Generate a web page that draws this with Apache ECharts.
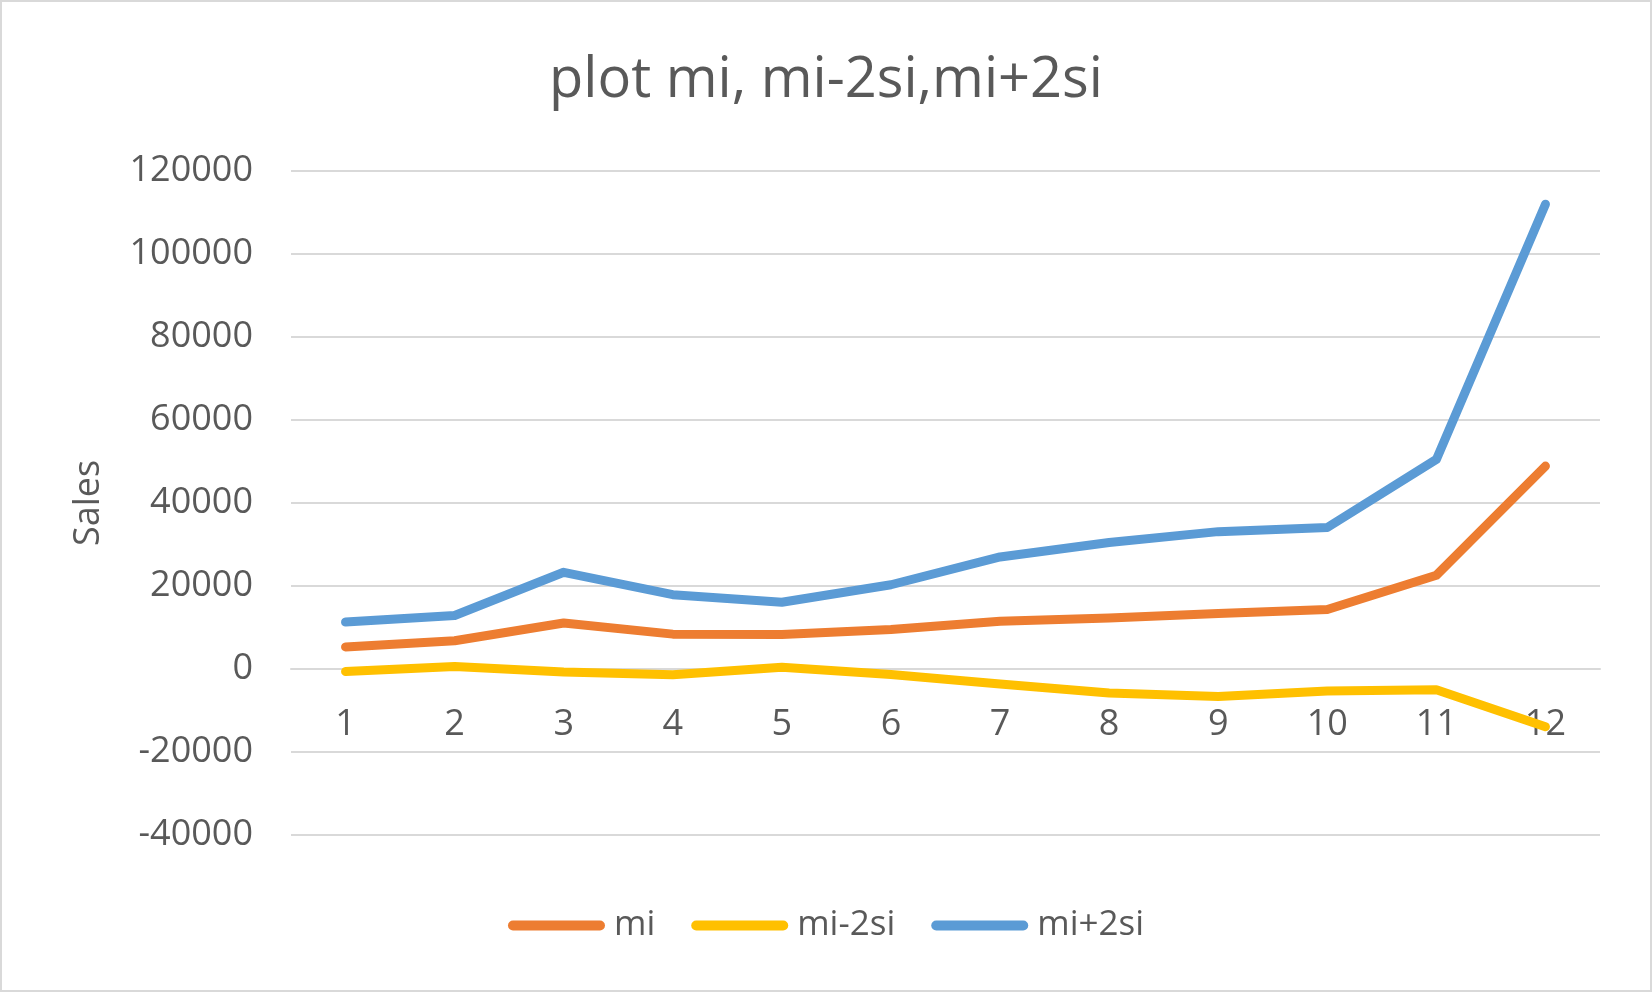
<!DOCTYPE html>
<html>
<head>
<meta charset="utf-8">
<title>plot mi, mi-2si,mi+2si</title>
<script src="https://cdn.jsdelivr.net/npm/echarts@6/dist/echarts.min.js"></script>
<style>
  html, body { margin: 0; padding: 0; background: #fff; }
  #chart { width: 1652px; height: 992px; }
</style>
</head>
<body>
<div id="chart"></div>
<script>
// values
const months = ['1', '2', '3', '4', '5', '6', '7', '8', '9', '10', '11', '12'];
const mi = [5300, 6800, 11100, 8400, 8300, 9500, 11500, 12300, 13400, 14350, 22600, 48900];
const miMinus2si = [-600, 600, -700, -1400, 400, -1300, -3600, -5800, -6600, -5300, -5000, -13900];
const miPlus2si = [11300, 12900, 23300, 17900, 16100, 20300, 27000, 30500, 33100, 34100, 50500, 112000];

const seriesNames = ['mi', 'mi-2si', 'mi+2si'];
const seriesColors = ['#ED7D31', '#FFC000', '#5B9BD5'];

const yMin = -40000;
const yMax = 120000;
const yStep = 20000;

const textColor = '#595959';
const gridColor = '#D9D9D9';
const font = '"Open Sans", Lato, sans-serif';

document.addEventListener('DOMContentLoaded', () => {
  drawChart();
});

function lineSeries(name, data, color) {
  return {
    name: name,
    type: 'line',
    data: data,
    symbol: 'none',
    color: color,
    lineStyle: { width: 9, color: color, cap: 'round', join: 'round' }
  };
}

function drawChart() {
  const gridTop = 171;
  const gridBottom = 157;
  const gridHeight = 992 - gridTop - gridBottom;
  // category axis sits on the zero line, like the original
  const zeroOffset = -gridHeight * (0 - yMin) / (yMax - yMin);

  const chart = echarts.init(document.getElementById('chart'));
  chart.setOption({
    animation: false,
    backgroundColor: '#fff',
    textStyle: { fontFamily: font, color: textColor },
    title: {
      text: 'plot mi, mi-2si,mi+2si',
      left: 'center',
      top: 48,
      textStyle: { fontFamily: font, fontSize: 56, fontWeight: 'normal', color: textColor }
    },
    legend: {
      bottom: 44,
      left: 'center',
      itemWidth: 97,
      itemHeight: 10,
      itemGap: 36,
      icon: 'path://M5 0H92A5 5 0 0 1 92 10H5A5 5 0 0 1 5 0Z',
      textStyle: { fontFamily: font, fontSize: 35, color: textColor, padding: [0, 0, 0, 4] },
      data: seriesNames
    },
    grid: { left: 291, right: 52, top: gridTop, bottom: gridBottom },
    xAxis: {
      type: 'category',
      data: months,
      boundaryGap: true,
      offset: zeroOffset,
      axisLine: { onZero: false, lineStyle: { color: gridColor, width: 2 } },
      axisTick: { show: false },
      axisLabel: { fontFamily: font, fontSize: 36, color: textColor, margin: 38 }
    },
    yAxis: {
      type: 'value',
      min: yMin,
      max: yMax,
      interval: yStep,
      name: 'Sales',
      nameLocation: 'middle',
      nameGap: 184,
      nameRotate: 90,
      nameTextStyle: { fontFamily: font, fontSize: 36, color: textColor },
      axisLine: { show: false },
      axisTick: { show: false },
      axisLabel: {
        fontFamily: font, fontSize: 36, color: textColor, margin: 38,
        formatter: value => String(value)
      },
      splitLine: { lineStyle: { color: gridColor, width: 2 } }
    },
    graphic: [{
      type: 'rect',
      shape: { x: 1, y: 1, width: 1650, height: 990 },
      style: { fill: 'none', stroke: gridColor, lineWidth: 2 },
      silent: true
    }],
    series: [
      lineSeries(seriesNames[0], mi, seriesColors[0]),
      lineSeries(seriesNames[1], miMinus2si, seriesColors[1]),
      lineSeries(seriesNames[2], miPlus2si, seriesColors[2])
    ]
  });
}
</script>
</body>
</html>
